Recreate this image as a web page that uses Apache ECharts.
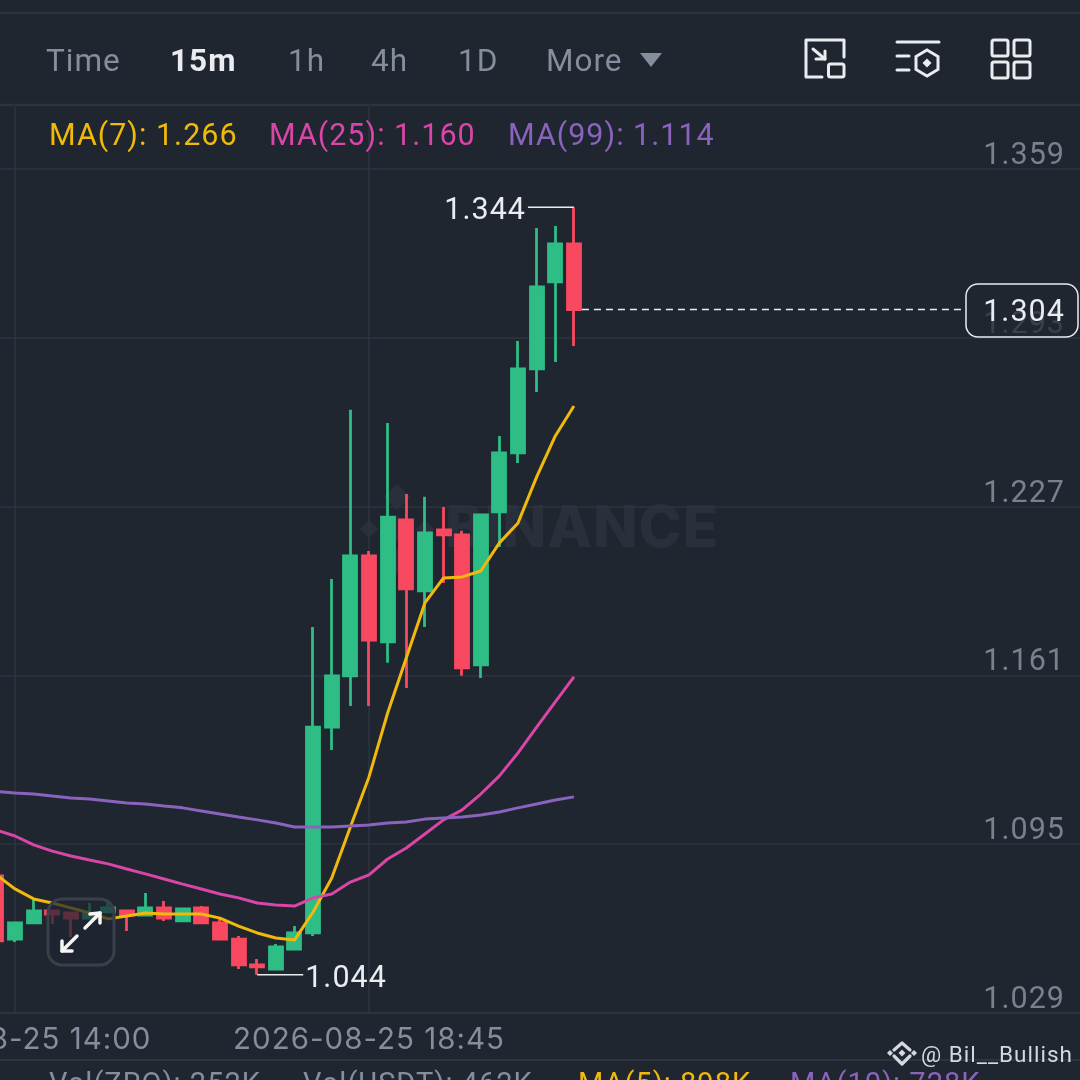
<!DOCTYPE html>
<html>
<head>
<meta charset="utf-8">
<style>html,body{margin:0;padding:0;background:#1f2630}#c{width:1080px;height:1080px}</style>
<script src="https://cdn.jsdelivr.net/npm/echarts@6/dist/echarts.min.js"></script>
</head>
<body>
<div id="c"></div>
<script>
const times = ['13:45','14:00','14:15','14:30','14:45','15:00','15:15','15:30','15:45','16:00','16:15','16:30','16:45','17:00','17:15','17:30','17:45','18:00','18:15','18:30','18:45','19:00','19:15','19:30','19:45','20:00','20:15','20:30','20:45','21:00','21:15','21:30'];
const shownTimes = ['14:00','18:45'];
const datePrefix = '2026-08-25 ';
const yTicks = { min: 1.029, step: 0.066 };
// [open, close, low, high]
const candles = [
[1.0826,1.0572,1.0572,1.0840],[1.0579,1.0642,1.0568,1.0642],[1.0642,1.0689,1.0642,1.0736],[1.0689,1.0677,1.0638,1.0689],
[1.0681,1.0661,1.0587,1.0681],[1.0661,1.0677,1.0661,1.0720],[1.0685,1.0701,1.0685,1.0732],[1.0689,1.0673,1.0611,1.0689],
[1.0673,1.0701,1.0673,1.0759],[1.0701,1.0661,1.0650,1.0728],[1.0650,1.0697,1.0650,1.0697],[1.0701,1.0642,1.0642,1.0708],
[1.0642,1.0579,1.0579,1.0665],[1.0579,1.0478,1.0462,1.0591],[1.0478,1.0470,1.0440,1.0501],[1.0462,1.0548,1.0462,1.0560],
[1.0540,1.0603,1.0540,1.0630],[1.0603,1.1408,1.0591,1.1799],[1.1408,1.1608,1.1318,1.1987],[1.1608,1.2077,1.1490,1.2648],
[1.2077,1.1748,1.1490,1.2096],[1.1741,1.2229,1.1659,1.2597],[1.2218,1.1948,1.1561,1.2319],[1.1940,1.2167,1.1799,1.2308],
[1.2179,1.2159,1.1971,1.2268],[1.2159,1.1639,1.1608,1.2175],[1.1651,1.2237,1.1600,1.2237],[1.2249,1.2480,1.2112,1.2546],
[1.2480,1.2808,1.2440,1.2917],[1.2808,1.3129,1.2718,1.3359],[1.3148,1.3297,1.2835,1.3367],[1.3297,1.3040,1.2898,1.3440]
];
const ma7 = [1.0830,1.0775,1.0736,1.0720,1.0701,1.0681,1.0658,1.0669,1.0681,1.0677,1.0677,1.0677,1.0661,1.0630,1.0603,1.0583,1.0575,1.0685,1.0818,1.1017,1.1213,1.1463,1.1678,1.1893,1.1991,1.1995,1.2018,1.2128,1.2206,1.2386,1.2546,1.2663];
const ma25 = [1.1005,1.0982,1.0947,1.0923,1.0904,1.0888,1.0873,1.0853,1.0834,1.0814,1.0794,1.0775,1.0755,1.0740,1.0720,1.0712,1.0708,1.0740,1.0755,1.0802,1.0830,1.0892,1.0935,1.0990,1.1045,1.1084,1.1146,1.1217,1.1307,1.1408,1.1506,1.1604];
const ma99 = [1.1156,1.1150,1.1146,1.1138,1.1131,1.1127,1.1119,1.1111,1.1107,1.1099,1.1092,1.1080,1.1068,1.1056,1.1045,1.1033,1.1017,1.1017,1.1017,1.1021,1.1025,1.1033,1.1037,1.1048,1.1052,1.1056,1.1064,1.1076,1.1092,1.1107,1.1123,1.1135];
const maLabels = ['MA(7): 1.266','MA(25): 1.160','MA(99): 1.114'];
const tabs = ['Time','15m','1h','4h','1D','More'];
const volLabels = ['Vol(ZRO): 252K','Vol(USDT): 462K','MA(5): 898K','MA(10): 728K'];
const highMark = ['21:30', 1.344];
const lowMark = ['17:15', 1.044];
const lastPrice = 1.304;

// the reference face is set slightly wider than the installed ones
const origGetContext = HTMLCanvasElement.prototype.getContext;
HTMLCanvasElement.prototype.getContext = function(){
  const ctx = origGetContext.apply(this, arguments);
  if (ctx && 'letterSpacing' in ctx) ctx.letterSpacing = '1px';
  return ctx;
};

const FONT = 'Roboto, "Noto Sans", sans-serif';
const DATEFONT = 'Inter, "Noto Sans", sans-serif';
const BG = '#1f2630', GRID = '#2e343f';
const UP = '#2ebd85', DOWN = '#f84960';
const C7 = '#f0b90b', C25 = '#d846a8', C99 = '#8a63bd';
const categories = times.slice();
while (categories.length < 60) categories.push(' ');
const isShown = (i, v) => shownTimes.indexOf(v) >= 0;

const chart = echarts.init(document.getElementById('c'), null, {renderer:'canvas', width:1080, height:1080});

const txt = (x, y, text, fill, size, weight, align, extra) => ({
  type:'text', z:100, silent:true,
  style:Object.assign({x, y:y+3, text, fill, font:(weight||400)+' '+size+'px '+FONT, align:align||'left', verticalAlign:'middle'}, extra||{})
});
const ln = (x1,y1,x2,y2,stroke,w,z) => ({type:'line', z:z==null?100:z, silent:true, shape:{x1,y1,x2,y2}, style:{stroke, lineWidth:w, lineCap:'round'}});
const poly = (pts, style, z) => ({type:'polygon', z:z==null?100:z, silent:true, shape:{points:pts}, style});
const pl = (pts, stroke, w) => ({type:'polyline', z:100, silent:true, shape:{points:pts}, style:{stroke, lineWidth:w, fill:null, lineCap:'round', lineJoin:'round'}});
const rr = (x,y,w,h,r,stroke,lw,fill,z) => ({type:'rect', z:z==null?100:z, silent:true, shape:{x,y,width:w,height:h,r}, style:{stroke, lineWidth:lw, fill:fill||null}});
const diamond = (cx,cy,r,fill,z) => poly([[cx,cy-r],[cx+r,cy],[cx,cy+r],[cx-r,cy]],{fill},z);

const ICON = '#eaecef', WM = '#2a303b', CREDIT = '#d5d8dc';
const tabX = [46,170,288,371,458,546];
const graphics = [
  ln(0,13,1080,13,GRID,2),
  ln(0,105,1080,105,GRID,2.5),
  ln(0,1060,1080,1060,GRID,2),
  // watermark
  {type:'text', z:-1, silent:true, style:{x:445,y:530,text:'BINANCE',fill:WM,font:'800 58px '+DATEFONT,align:'left',verticalAlign:'middle'}},
  diamond(397,497,13,WM,-1), diamond(397,529,13,WM,-1), diamond(397,561,13,WM,-1),
  diamond(369,529,9,WM,-1), diamond(425,529,9,WM,-1),
  // tabs
  ...tabs.map((t,i)=>txt(tabX[i],60,t,i===1?'#eaecef':'#848e9c',31.5,i===1?700:400)),
  poly([[640,53],[662,53],[651,67]],{fill:'#848e9c'}),
  // MA legend
  txt(49,134,maLabels[0],C7,30.5), txt(269,134,maLabels[1],C25,30.5), txt(508,134,maLabels[2],C99,30.5),
  // icon 1
  pl([[822,77],[806,77],[806,40],[844,40],[844,57]],ICON,3),
  rr(828.5,64,15.5,13,2,ICON,3),
  pl([[813,49],[825,59]],ICON,3), pl([[825,51],[825,59],[816,59]],ICON,3),
  // icon 2
  ln(897,42,939,42,ICON,3), ln(897,56,909,56,ICON,3), ln(897,70,909,70,ICON,3),
  poly([[927,50],[938,56.5],[938,69.5],[927,76],[916,69.5],[916,56.5]],{stroke:ICON,lineWidth:3,fill:null}),
  diamond(927,63,4.5,ICON),
  // icon 3
  rr(992,40,16,16,2,ICON,3), rr(1014,40,16,16,2,ICON,3), rr(992,62,16,16,2,ICON,3), rr(1014,62,16,16,2,ICON,3),
  // resize button
  rr(48,899,66,66,14,'#3a404a',3,'rgba(31,38,48,0.72)'),
  pl([[85,928],[100,913]],'#f5f5f5',3.5),
  pl([[90,914],[100,913],[100,923]],'#f5f5f5',3.5),
  pl([[77,936],[62,951]],'#f5f5f5',3.5),
  pl([[62,941],[62,951],[72,951]],'#f5f5f5',3.5),
  // vol row
  txt(49,1083,volLabels[0],'#848e9c',29), txt(303,1083,volLabels[1],'#848e9c',29),
  txt(578,1083,volLabels[2],C7,29), txt(790,1083,volLabels[3],C99,29),
  // credit
  pl([[894,1050],[902,1043],[910,1050]],CREDIT,3.2), pl([[894,1056],[902,1064],[910,1056]],CREDIT,3.2),
  diamond(902,1053,3.5,CREDIT), diamond(890,1053,3,CREDIT), diamond(914,1053,3,CREDIT),
  txt(921,1053,'@ Bil__Bullish',CREDIT,22.5,400,'left',{shadowColor:'rgba(0,0,0,0.6)',shadowBlur:2,shadowOffsetY:1})
];

function annotation(params, api){
  const p = api.coord([api.value(0), api.value(1)]);
  const dir = api.value(2);
  const endX = p[0] + dir*46;
  return {type:'group', children:[
    {type:'line', shape:{x1:p[0],y1:p[1],x2:endX,y2:p[1]}, style:{stroke:'#eaecef',lineWidth:1.5}},
    {type:'text', style:{x:endX+dir*2,y:p[1]+4.5,text:api.value(3),fill:'#eaecef',font:'400 30.5px '+FONT,align:dir>0?'left':'right',verticalAlign:'middle'}}
  ]};
}
function priceTag(params, api){
  const p = api.coord([api.value(0), api.value(1)]);
  return {type:'group', children:[
    {type:'line', shape:{x1:p[0]+8,y1:p[1],x2:962,y2:p[1]}, style:{stroke:'#eaecef',lineWidth:1.5,lineDash:[7,5]}},
    {type:'rect', shape:{x:966,y:284,width:112,height:53,r:12}, style:{stroke:'#eaecef',lineWidth:1.5,fill:'rgba(31,38,48,0.7)'}},
    {type:'text', style:{x:1024,y:p[1]+4,text:api.value(2),fill:'#eaecef',font:'400 30.5px '+FONT,align:'center',verticalAlign:'middle'}}
  ]};
}
const maSeries = (name,data,color) => ({name,type:'line',data,symbol:'none',smooth:false,lineStyle:{color,width:3},z:5,silent:true,animation:false});

chart.setOption({
  animation:false,
  backgroundColor:BG,
  grid:{left:-3.6,top:107,width:1099.17,bottom:67,containLabel:false,outerBoundsMode:'none'},
  xAxis:{
    type:'category',data:categories,boundaryGap:false,
    axisLine:{show:true,lineStyle:{color:GRID,width:2}},
    axisTick:{show:false},
    axisLabel:{show:true,interval:isShown,margin:12,fontFamily:DATEFONT,fontSize:29.5,color:'#848e9c',
      formatter:v=>datePrefix+v,hideOverlap:false},
    splitLine:{show:true,interval:isShown,lineStyle:{color:GRID,width:1.5}}
  },
  yAxis:{
    type:'value',position:'right',min:yTicks.min,max:1.3832,interval:yTicks.step,scale:true,
    axisLine:{show:false},axisTick:{show:false},
    axisLabel:{inside:true,margin:30.6,fontFamily:FONT,fontSize:30.5,lineHeight:25,color:'#79818d',verticalAlign:'bottom',
      showMaxLabel:false,showMinLabel:true,formatter:v=>v.toFixed(3)},
    splitLine:{show:true,showMaxLine:false,lineStyle:{color:GRID,width:1.5}}
  },
  graphic:{elements:graphics},
  series:[
    {name:'price',type:'candlestick',data:candles,barWidth:13.5,z:3,silent:true,
      itemStyle:{color:UP,color0:DOWN,borderColor:UP,borderColor0:DOWN,borderWidth:2.8}},
    maSeries('MA(7)',ma7,C7),
    maSeries('MA(25)',ma25,C25),
    maSeries('MA(99)',ma99,C99),
    {type:'custom',clip:false,z:6,silent:true,renderItem:annotation,encode:{x:0,y:1},
      data:[[highMark[0],highMark[1],-1,highMark[1].toFixed(3)],[lowMark[0],lowMark[1],1,lowMark[1].toFixed(3)]]},
    {type:'custom',clip:false,z:7,silent:true,renderItem:priceTag,encode:{x:0,y:1},
      data:[[times[times.length-1],lastPrice,lastPrice.toFixed(3)]]}
  ]
});
</script>
</body>
</html>
